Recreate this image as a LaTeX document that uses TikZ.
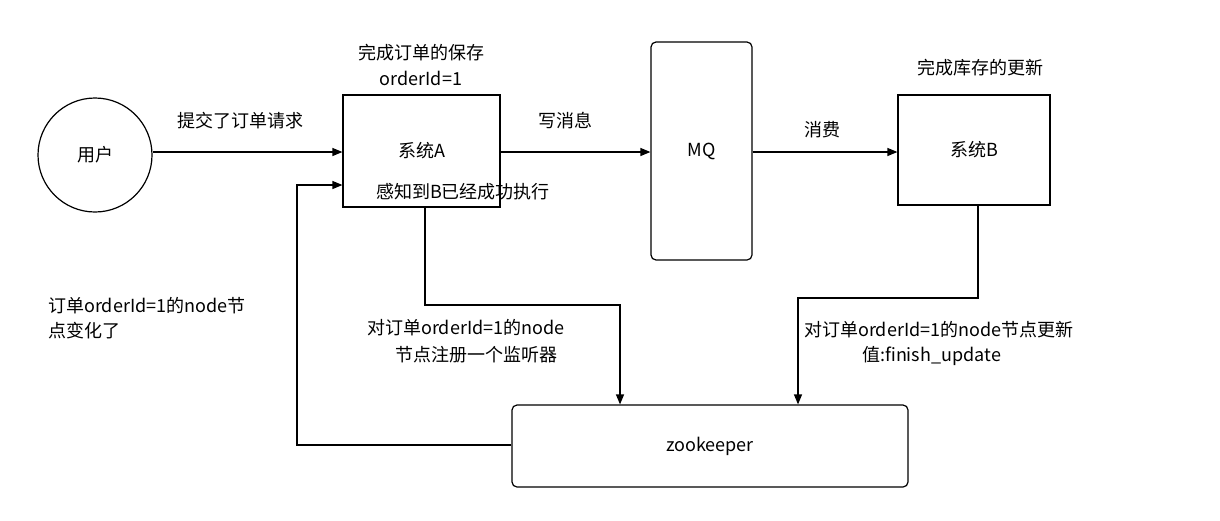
\documentclass[tikz,border=0pt]{standalone}
\usepackage{fontspec}
\setmainfont{Noto Sans CJK SC}
\usetikzlibrary{arrows.meta}
\begin{document}
\begin{tikzpicture}[x=1pt,y=-1pt,
  box/.style={draw,line width=1.2pt,inner sep=0pt},
  arr/.style={line width=1.2pt,-{Triangle[length=10pt,width=8pt]}},
  lab/.style={font=\fontsize{18}{20}\selectfont,inner sep=0pt}]
\useasboundingbox (0,0) rectangle (1220,520);
\node[box,circle,minimum size=114pt,lab] (u) at (95,155) {用户};
\node[box,minimum width=157pt,minimum height=112pt,lab] (a) at (421.5,151) {系统A};
\node[box,rounded corners=5pt,minimum width=101pt,minimum height=218pt,lab] (mq) at (701.5,151) {MQ};
\node[box,minimum width=152pt,minimum height=110pt,lab] (b) at (974,150) {系统B};
\node[box,rounded corners=5pt,minimum width=396pt,minimum height=82pt,lab] (z) at (710,446) {zookeeper};
\draw[arr] (u.east|-0,152) -- (a.west|-0,152);
\draw[arr] (a.east|-0,152) -- (mq.west|-0,152);
\draw[arr] (mq.east|-0,152) -- (b.west|-0,152);
\coordinate (a1) at (425,305); \coordinate (a2) at (620,305);
\draw[arr] (a.south-|a1) -- (a1) -- (a2) -- (z.north-|a2);
\coordinate (b1) at (978,298); \coordinate (b2) at (798,298);
\draw[arr] (b.south-|b1) -- (b1) -- (b2) -- (z.north-|b2);
\coordinate (z1) at (297,445); \coordinate (z2) at (297,185);
\draw[arr] (z.west|-z1) -- (z1) -- (z2) -- (a.west|-z2);
\node[lab] (t1) at (240,121) {提交了订单请求};
\node[lab] (t2) at (421,53) {完成订单的保存};
\node[lab] (t3) at (421,78) {orderId=1};
\node[lab] (t4) at (565,121) {写消息};
\node[lab] (t5) at (822,130) {消费};
\node[lab] (t6) at (980,68) {完成库存的更新};
\node[lab] (t7) at (463,192) {感知到B已经成功执行};
\node[lab,anchor=west] (t8) at (48,306) {订单orderId=1的node节};
\node[lab,anchor=west] (t9) at (48,331) {点变化了};
\node[lab,anchor=west] (t10) at (367,328) {对订单orderId=1的node};
\node[lab,anchor=west] (t11) at (395,355) {节点注册一个监听器};
\node[lab,anchor=west] (t12) at (804,330) {对订单orderId=1的node节点更新};
\node[lab,anchor=west] (t13) at (862,356) {值:finish\_update};
\end{tikzpicture}
\end{document}
